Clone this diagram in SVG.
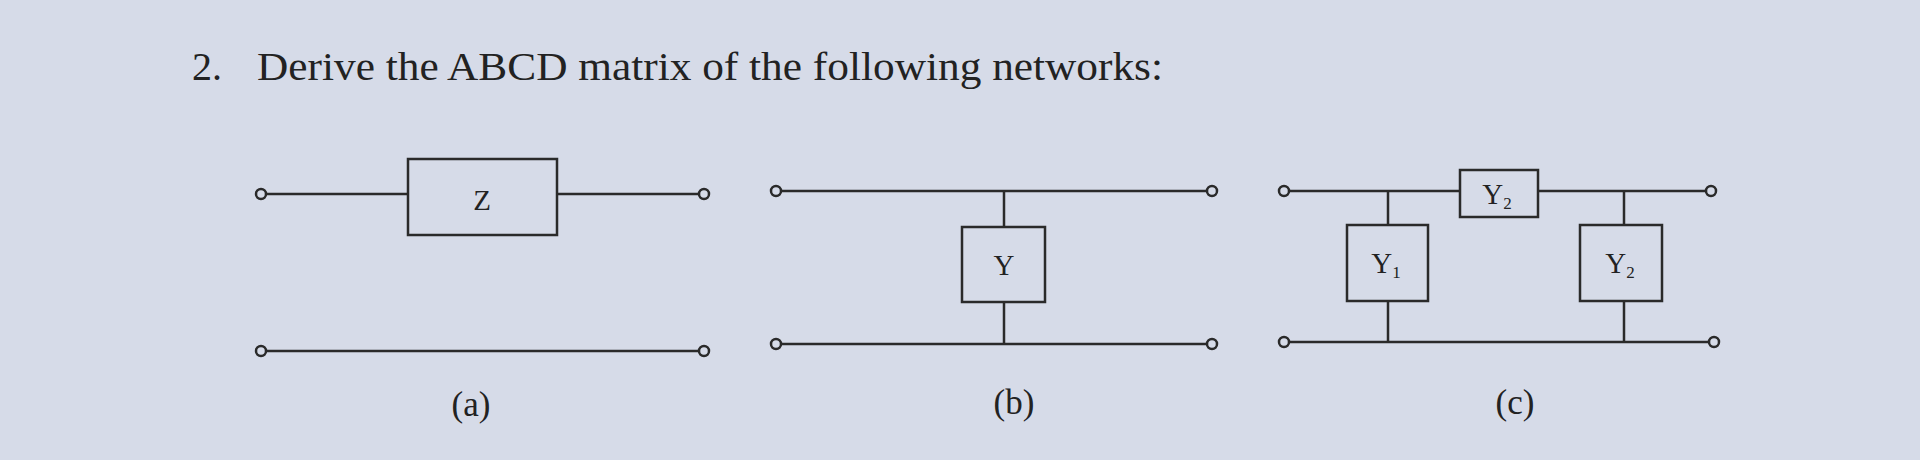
<svg xmlns="http://www.w3.org/2000/svg" width="1920" height="460" viewBox="0 0 1920 460">
<style>
.w{stroke:#2a2a2a;stroke-width:2.5;fill:none}
.b{stroke:#2a2a2a;stroke-width:2.5;fill:none}
.t{stroke:#2a2a2a;stroke-width:2.5;fill:#d6dbe8}
text{font-family:"Liberation Serif",serif;fill:#222}
.lb{font-size:29px;text-anchor:middle}
.cap{font-size:35px;text-anchor:middle}
</style>
<rect width="1920" height="460" fill="#d6dbe8"/>
<text x="192" y="80" font-size="40">2.</text>
<text x="257" y="80" font-size="40" textLength="906" lengthAdjust="spacingAndGlyphs">Derive the ABCD matrix of the following networks:</text>
<g id="connectors">
<line class="w" x1="266" y1="194" x2="408" y2="194"/>
<line class="w" x1="557" y1="194" x2="699" y2="194"/>
<line class="w" x1="266" y1="351" x2="699" y2="351"/>
<line class="w" x1="781" y1="191" x2="1207" y2="191"/>
<line class="w" x1="1004" y1="191" x2="1004" y2="227"/>
<line class="w" x1="1004" y1="302" x2="1004" y2="344"/>
<line class="w" x1="781" y1="344" x2="1207" y2="344"/>
<line class="w" x1="1289" y1="191" x2="1460" y2="191"/>
<line class="w" x1="1538" y1="191" x2="1706" y2="191"/>
<line class="w" x1="1388" y1="191" x2="1388" y2="225"/>
<line class="w" x1="1388" y1="301" x2="1388" y2="342"/>
<line class="w" x1="1624" y1="191" x2="1624" y2="225"/>
<line class="w" x1="1624" y1="301" x2="1624" y2="342"/>
<line class="w" x1="1289" y1="342" x2="1709" y2="342"/>
</g>
<g id="terminals">
<circle class="t" cx="261" cy="194" r="5"/><circle class="t" cx="704" cy="194" r="5"/>
<circle class="t" cx="261" cy="351" r="5"/><circle class="t" cx="704" cy="351" r="5"/>
<circle class="t" cx="776" cy="191" r="5"/><circle class="t" cx="1212" cy="191" r="5"/>
<circle class="t" cx="776" cy="344" r="5"/><circle class="t" cx="1212" cy="344" r="5"/>
<circle class="t" cx="1284" cy="191" r="5"/><circle class="t" cx="1711" cy="191" r="5"/>
<circle class="t" cx="1284" cy="342" r="5"/><circle class="t" cx="1714" cy="342" r="5"/>
</g>
<g id="Z"><rect class="b" x="408" y="159" width="149" height="76"/><text class="lb" x="482" y="210">Z</text></g>
<g id="Y"><rect class="b" x="962" y="227" width="83" height="75"/><text class="lb" x="1004" y="275">Y</text></g>
<g id="Y2top"><rect class="b" x="1460" y="170" width="78" height="47"/><text class="lb" x="1497" y="204">Y<tspan font-size="17" dy="5">2</tspan></text></g>
<g id="Y1"><rect class="b" x="1347" y="225" width="81" height="76"/><text class="lb" x="1386" y="273">Y<tspan font-size="17" dy="5">1</tspan></text></g>
<g id="Y2"><rect class="b" x="1580" y="225" width="82" height="76"/><text class="lb" x="1620" y="273">Y<tspan font-size="17" dy="5">2</tspan></text></g>
<text class="cap" x="471" y="416">(a)</text>
<text class="cap" x="1014" y="414">(b)</text>
<text class="cap" x="1515" y="414">(c)</text>
</svg>
